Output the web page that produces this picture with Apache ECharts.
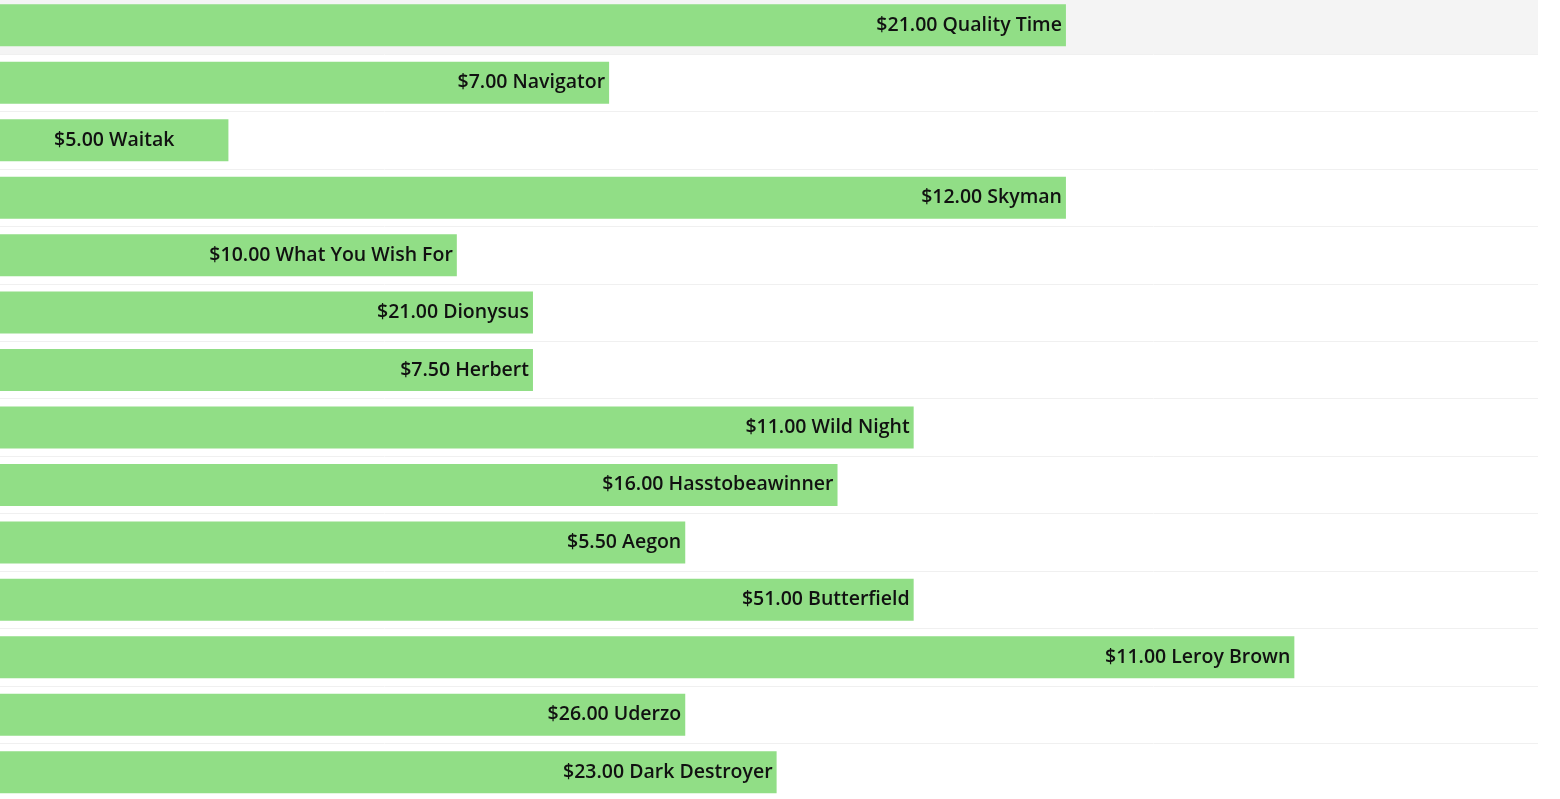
<!DOCTYPE html>
<html>
<head>
<meta charset="utf-8">
<script src="https://cdn.jsdelivr.net/npm/echarts@6/dist/echarts.min.js"></script>
<style>
  html, body { margin: 0; padding: 0; background: #fff; }
  #chart { width: 1560px; height: 799px; }
</style>
</head>
<body>
<div id="chart"></div>
<script>
// categories, top to bottom
const names = ['Quality Time', 'Navigator', 'Waitak', 'Skyman', 'What You Wish For', 'Dionysus', 'Herbert',
  'Wild Night', 'Hasstobeawinner', 'Aegon', 'Butterfield', 'Leroy Brown', 'Uderzo', 'Dark Destroyer'];
// bar lengths
const scores = [14, 8, 3, 14, 6, 7, 7, 12, 11, 9, 12, 17, 9, 10.2];
// prices shown in the labels
const prices = [21, 7, 5, 12, 10, 21, 7.5, 11, 16, 5.5, 51, 11, 26, 23];
const axisMax = 20.2;
// highlighted row (hover shadow)
const highlight = names.map((n, i) => i === 0 ? axisMax : null);

const barData = scores.map((v, i) => {
  // the short bar keeps its label centred
  if (i === 2) return { value: v, label: { position: 'inside' } };
  return v;
});

const chart = echarts.init(document.getElementById('chart'));
chart.setOption({
  animation: false,
  grid: { left: 0, right: 22, top: -3.4, height: 804.3, containLabel: false, outerBoundsMode: 'none' },
  xAxis: { type: 'value', min: 0, max: axisMax, show: false },
  yAxis: [
    {
      type: 'category',
      data: names,
      inverse: true,
      axisLine: { show: false },
      axisTick: { show: false },
      axisLabel: { show: false },
      splitLine: { show: true, lineStyle: { color: '#f0f0f0', width: 1 } }
    },
    {
      type: 'category',
      data: names,
      inverse: true,
      show: false
    }
  ],
  series: [
    {
      name: 'shadow',
      type: 'bar',
      yAxisIndex: 1,
      data: highlight,
      barWidth: '100%',
      itemStyle: { color: '#f4f4f4' },
      silent: true,
      z: 1
    },
    {
      name: 'score',
      type: 'bar',
      data: barData,
      barWidth: 42,
      itemStyle: { color: '#91de86' },
      label: {
        show: true,
        position: 'insideRight',
        distance: 4,
        color: '#111',
        fontSize: 19.5,
        fontWeight: 600,
        fontFamily: 'Open Sans',
        formatter: p => '$' + prices[p.dataIndex].toFixed(2) + ' ' + p.name
      },
      z: 3
    }
  ]
});
</script>
</body>
</html>
